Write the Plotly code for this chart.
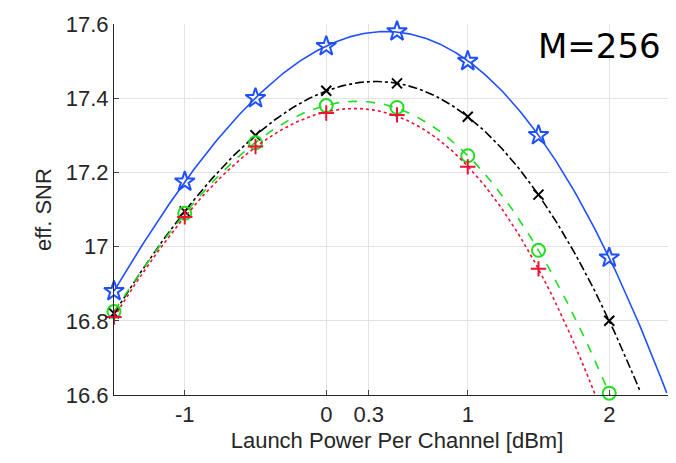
import numpy as np
import plotly.graph_objects as go

power = [-1.5, -1, -0.5, 0, 0.5, 1, 1.5, 2]
snr_star = [16.88, 17.175, 17.40, 17.54, 17.58, 17.50, 17.30, 16.97]
snr_x = [16.82, 17.095, 17.30, 17.42, 17.44, 17.35, 17.14, 16.80]
snr_circle = [16.825, 17.09, 17.28, 17.38, 17.375, 17.245, 16.99, 16.605]
snr_plus = [16.81, 17.08, 17.27, 17.36, 17.355, 17.215, 16.94]
tick_vals = [-1, 0, 0.3, 1, 2]
tick_text = ['-1', '0', '0.3', '1', '2']

series = [
    (snr_star, '#1f4fff', 'solid', 'star-open', 15),
    (snr_x, 'black', 'dashdot', 'x-thin-open', 10),
    (snr_circle, '#22dd22', 'dash', 'circle-open', 13),
    (snr_plus, '#ee1133', 'dot', 'cross-thin-open', 11),
]

fig = go.Figure()
xs = np.linspace(-1.5, 2.5, 300)
for ys, color, dash, symbol, size in series:
    px = power[:len(ys)]
    # smooth curve through the measured points
    coef = np.polyfit(px, ys, 4)
    yf = np.polyval(coef, xs)
    keep = yf >= 16.6
    fig.add_trace(go.Scatter(x=xs[keep], y=yf[keep], mode='lines',
                             line=dict(color=color, dash=dash, width=1.6),
                             showlegend=False, hoverinfo='skip'))
    fig.add_trace(go.Scatter(x=px, y=ys, mode='markers',
                             marker=dict(symbol=symbol, size=size, color=color,
                                         line=dict(color=color, width=2)),
                             showlegend=False, cliponaxis=False))

fig.add_annotation(x=0.97, y=1.0, xref='paper', yref='paper', xanchor='right', yanchor='top',
                   text='M=256', showarrow=False,
                   font=dict(family='DejaVu Sans', size=34, color='black'))

fig.update_layout(
    width=676, height=463,
    margin=dict(l=106, r=4, t=13, b=76),
    plot_bgcolor='white', paper_bgcolor='white',
    font=dict(family='Liberation Sans', size=22, color='#262626'),
    xaxis=dict(range=[-1.5, 2.5], tickvals=tick_vals, ticktext=tick_text,
               showgrid=True, gridcolor='#e3e3e3', zeroline=False,
               showline=True, linecolor='#262626', ticks='inside', ticklen=5,
               tickfont=dict(size=22),
               title=dict(text='Launch Power Per Channel [dBm]', standoff=6, font=dict(size=22))),
    yaxis=dict(range=[16.6, 17.6], tickvals=[16.6, 16.8, 17, 17.2, 17.4, 17.6],
               ticktext=['16.6', '16.8', '17', '17.2', '17.4', '17.6'],
               showgrid=True, gridcolor='#e3e3e3', zeroline=False,
               showline=True, linecolor='#262626', ticks='inside', ticklen=5,
               tickfont=dict(size=22),
               title=dict(text='eff. SNR', standoff=8, font=dict(size=22))),
)
fig.write_html("out.html")
